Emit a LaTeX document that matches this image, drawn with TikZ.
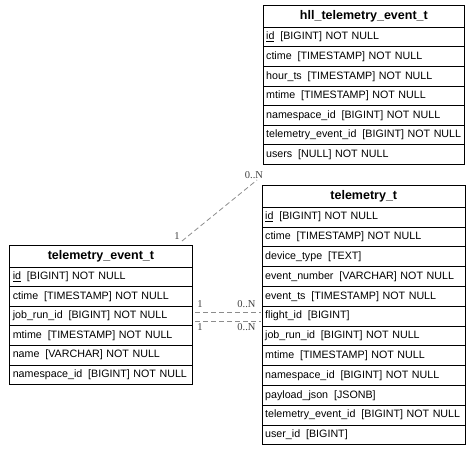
\documentclass[tikz,border=0pt]{standalone}
\usepackage{fontspec}
\setmainfont{Liberation Sans}
\newfontfamily\labelfont{Liberation Serif}
\newcommand\gap{\hspace{0.55em}}
\begin{document}
\begin{tikzpicture}[x=1pt,y=-1pt,
  hdr/.style={draw,line width=0.9pt,minimum height=21.5pt,inner sep=0pt,anchor=north west,
    font=\bfseries\fontsize{12.5}{14}\selectfont},
  row/.style={draw,line width=0.9pt,inner xsep=3pt,inner ysep=0pt,
    anchor=north west,align=left,font=\fontsize{10.7}{12}\selectfont},
  rel/.style={draw=black!45,line width=0.8pt,dash pattern=on 5pt off 3pt},
  card/.style={font=\labelfont\fontsize{10.5}{12}\selectfont,text=black!75,inner sep=0pt}
]
\useasboundingbox (0,0) rectangle (474,450);

% hll_telemetry_event_t
\node[hdr,minimum width=201.5pt] (hll-h) at (262.7,5.3) {hll\_telemetry\_event\_t};
\foreach \t [count=\i] in {
  {\underline{id}\gap[BIGINT] NOT NULL},
  {ctime\gap[TIMESTAMP] NOT NULL},
  {hour\_ts\gap[TIMESTAMP] NOT NULL},
  {mtime\gap[TIMESTAMP] NOT NULL},
  {namespace\_id\gap[BIGINT] NOT NULL},
  {telemetry\_event\_id\gap[BIGINT] NOT NULL},
  {users\gap[NULL] NOT NULL}}
  \node[row,minimum height=19.6pt,text width=195.5pt] (hll-\i) at (262.7,{26.8+(\i-1)*19.6}) {\t};

% telemetry_t
\node[hdr,minimum width=203.3pt] (tel-h) at (261.7,185.3) {telemetry\_t};
\foreach \t [count=\i] in {
  {\underline{id}\gap[BIGINT] NOT NULL},
  {ctime\gap[TIMESTAMP] NOT NULL},
  {device\_type\gap[TEXT]},
  {event\_number\gap[VARCHAR] NOT NULL},
  {event\_ts\gap[TIMESTAMP] NOT NULL},
  {flight\_id\gap[BIGINT]},
  {job\_run\_id\gap[BIGINT] NOT NULL},
  {mtime\gap[TIMESTAMP] NOT NULL},
  {namespace\_id\gap[BIGINT] NOT NULL},
  {payload\_json\gap[JSONB]},
  {telemetry\_event\_id\gap[BIGINT] NOT NULL},
  {user\_id\gap[BIGINT]}}
  \node[row,minimum height=19.8pt,text width=197.3pt] (tel-\i) at (261.7,{206.8+(\i-1)*19.8}) {\t};

% telemetry_event_t
\node[hdr,minimum width=182.4pt] (te-h) at (9.3,245) {telemetry\_event\_t};
\foreach \t [count=\i] in {
  {\underline{id}\gap[BIGINT] NOT NULL},
  {ctime\gap[TIMESTAMP] NOT NULL},
  {job\_run\_id\gap[BIGINT] NOT NULL},
  {mtime\gap[TIMESTAMP] NOT NULL},
  {name\gap[VARCHAR] NOT NULL},
  {namespace\_id\gap[BIGINT] NOT NULL}}
  \node[row,minimum height=19.6pt,text width=176.4pt] (te-\i) at (9.3,{266.5+(\i-1)*19.6}) {\t};

% relationships
\coordinate (d1) at (182,241);
\coordinate (d2) at (257,180);
\draw[rel] (d1) -- (d2);
\node[card] (d1l) at (177,236) {1};
\node[card] (d2l) at (254,175) {0..N};

\coordinate (a1) at (195,312.7);
\coordinate (a2) at (261,312.7);
\draw[rel] (a1) -- (a2);
\node[card] (a1l) at (200,304.5) {1};
\node[card] (a2l) at (246.5,304.5) {0..N};

\coordinate (b1) at (195,321);
\coordinate (b2) at (261,321);
\draw[rel] (b1) -- (b2);
\node[card] (b1l) at (200,327) {1};
\node[card] (b2l) at (246.5,327) {0..N};
\end{tikzpicture}
\end{document}
